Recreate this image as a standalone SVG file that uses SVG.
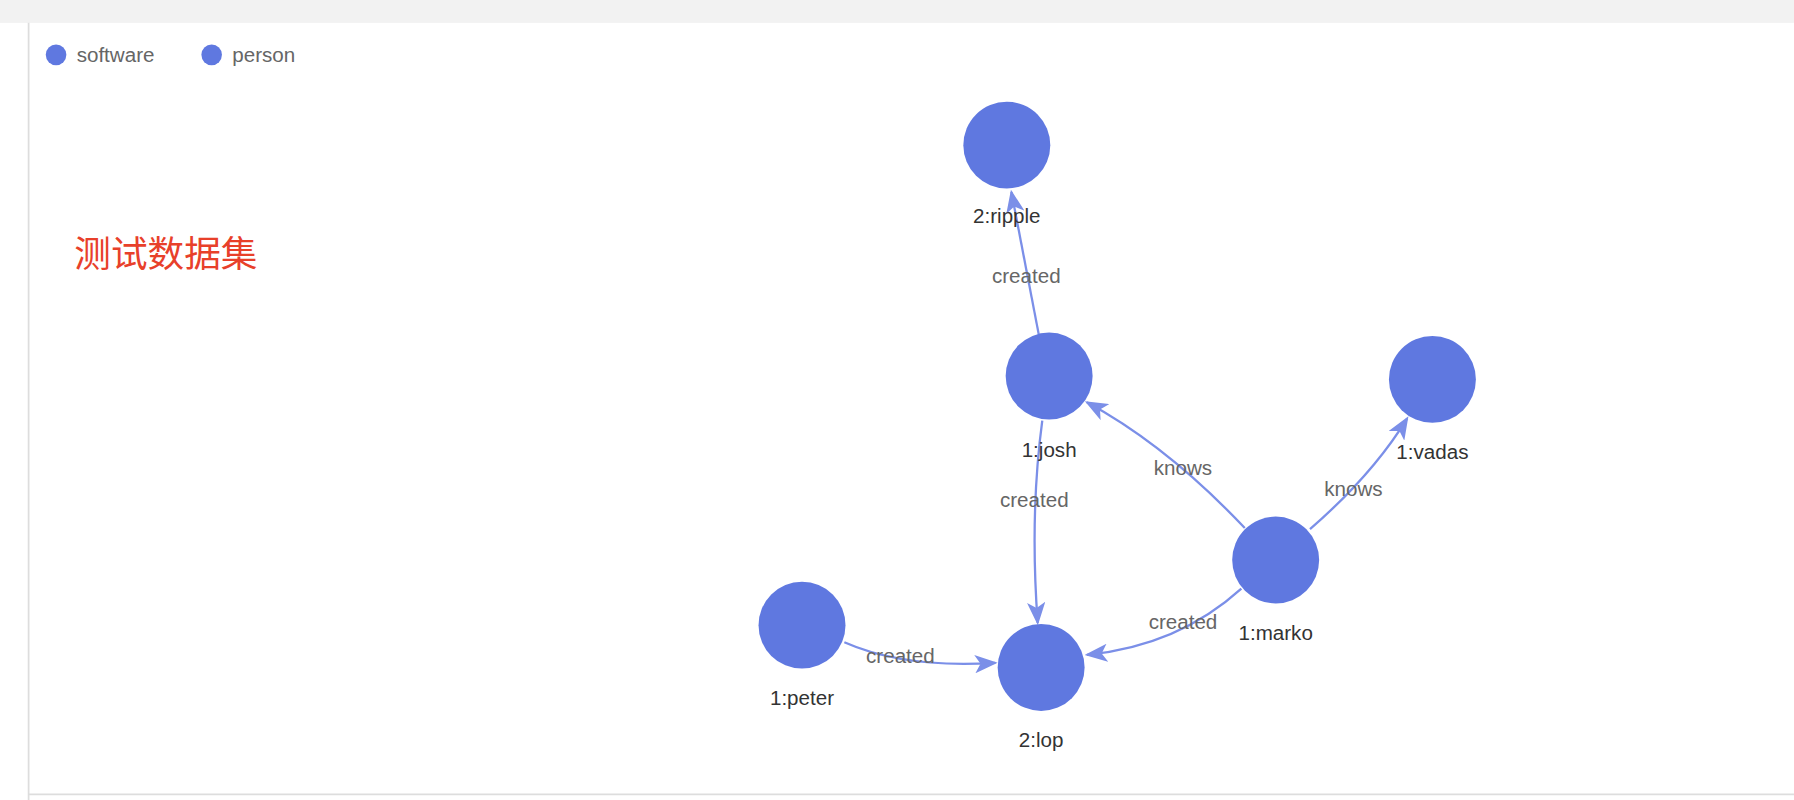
<svg xmlns="http://www.w3.org/2000/svg" width="1794" height="800" viewBox="0 0 1794 800">
<defs>
<style>
.n{fill:#5f78e0}
.nl{font-family:"Liberation Sans",Arial,sans-serif;font-size:18px;fill:#333;text-anchor:middle}
.el{font-family:"Liberation Sans",Arial,sans-serif;font-size:18px;fill:#666;text-anchor:middle}
.e{fill:none;stroke:#7b8fe8;stroke-width:2;marker-end:url(#a)}
</style>
<marker id="a" viewBox="0 0 20 16" refX="18" refY="8" markerWidth="20" markerHeight="16" markerUnits="userSpaceOnUse" orient="auto"><path d="M0,0 L20,8 L0,16 L5,8 Z" fill="#7b8fe8"/></marker>
</defs>
<rect width="1794" height="800" fill="#fff"/>
<g transform="scale(1.1441,1.1429)">
<rect x="0" y="0" width="1568" height="20" fill="#f2f2f2"/>
<line x1="25" y1="20" x2="25" y2="700" stroke="#ddd" stroke-width="1.5"/>
<line x1="25" y1="695" x2="1568" y2="695" stroke="#ddd" stroke-width="1.5"/>
<g id="legend">
<circle cx="49" cy="48" r="9" class="n"/><text x="67" y="54" font-family="Liberation Sans,Arial,sans-serif" font-size="18" fill="#666">software</text>
<circle cx="185" cy="48" r="9" class="n"/><text x="203" y="54" font-family="Liberation Sans,Arial,sans-serif" font-size="18" fill="#666">person</text>
</g>
<text x="65" y="234" font-family="'Noto Sans CJK SC',sans-serif" font-size="32" fill="#e8402a">测试数据集</text>
<g id="edges">
<path class="e" d="M908,293 L884,168"/>
<path class="e" d="M911,368 Q900,450 907,545"/>
<path class="e" d="M1088,462 Q1020,390 950,352"/>
<path class="e" d="M1145,463 Q1200,415 1230,366"/>
<path class="e" d="M1085,515 Q1030,565 950,573"/>
<path class="e" d="M738,562 Q790,585 870,580"/>
<text class="el" x="897" y="248">created</text>
<text class="el" x="904" y="444">created</text>
<text class="el" x="1034" y="416">knows</text>
<text class="el" x="1183" y="434">knows</text>
<text class="el" x="1034" y="550">created</text>
<text class="el" x="787" y="580">created</text>
</g>
<g id="ripple"><circle cx="880" cy="127" r="38" class="n"/><text class="nl" x="880" y="195">2:ripple</text></g>
<g id="josh"><circle cx="917" cy="329" r="38" class="n"/><text class="nl" x="917" y="400">1:josh</text></g>
<g id="vadas"><circle cx="1252" cy="332" r="38" class="n"/><text class="nl" x="1252" y="402">1:vadas</text></g>
<g id="marko"><circle cx="1115" cy="490" r="38" class="n"/><text class="nl" x="1115" y="560">1:marko</text></g>
<g id="peter"><circle cx="701" cy="547" r="38" class="n"/><text class="nl" x="701" y="617">1:peter</text></g>
<g id="lop"><circle cx="910" cy="584" r="38" class="n"/><text class="nl" x="910" y="654">2:lop</text></g>
</g>
</svg>
